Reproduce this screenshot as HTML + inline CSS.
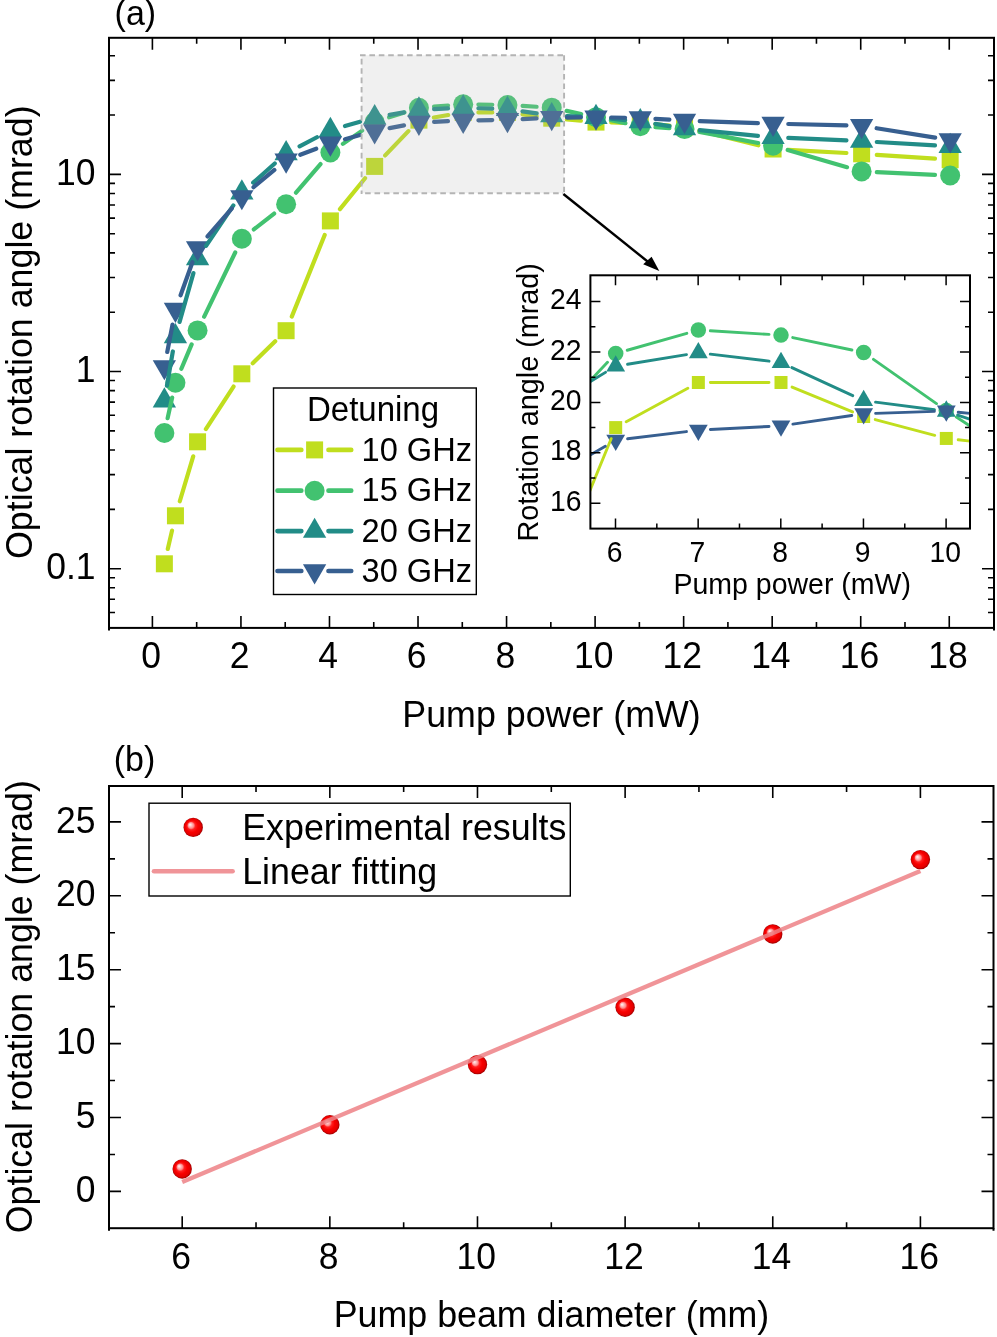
<!DOCTYPE html>
<html><head><meta charset="utf-8"><title>Optical rotation angle</title>
<style>html,body{margin:0;padding:0;background:#fff;width:997px;height:1337px;overflow:hidden}</style>
</head><body>
<svg width="997" height="1337" viewBox="0 0 997 1337" style="display:block">
<rect width="997" height="1337" fill="#fff"/>
<text transform="translate(114.6 24.5) scale(1 1.04)" font-size="34" font-family="'Liberation Sans', Arial, sans-serif">(a)</text>
<rect x="155.87" y="555.3" width="17" height="17" fill="#c0de1e"/>
<rect x="166.94" y="507.3" width="17" height="17" fill="#c0de1e"/>
<rect x="189.07" y="433.3" width="17" height="17" fill="#c0de1e"/>
<rect x="233.34" y="365.3" width="17" height="17" fill="#c0de1e"/>
<rect x="277.61" y="322.2" width="17" height="17" fill="#c0de1e"/>
<rect x="321.88" y="212.4" width="17" height="17" fill="#c0de1e"/>
<rect x="366.15" y="157.9" width="17" height="17" fill="#c0de1e"/>
<rect x="410.42" y="111.64" width="17" height="17" fill="#c0de1e"/>
<rect x="454.69" y="103.93" width="17" height="17" fill="#c0de1e"/>
<rect x="498.96" y="103.93" width="17" height="17" fill="#c0de1e"/>
<rect x="543.23" y="109.68" width="17" height="17" fill="#c0de1e"/>
<rect x="587.5" y="113.6" width="17" height="17" fill="#c0de1e"/>
<rect x="631.77" y="114.63" width="17" height="17" fill="#c0de1e"/>
<rect x="676.04" y="118.48" width="17" height="17" fill="#c0de1e"/>
<rect x="764.58" y="140.5" width="17" height="17" fill="#c0de1e"/>
<rect x="853.12" y="145.3" width="17" height="17" fill="#c0de1e"/>
<rect x="941.66" y="151.2" width="17" height="17" fill="#c0de1e"/>
<circle cx="164.37" cy="433" r="10" fill="#42c270"/>
<circle cx="175.44" cy="382.7" r="10" fill="#42c270"/>
<circle cx="197.57" cy="330.4" r="10" fill="#42c270"/>
<circle cx="241.84" cy="238.8" r="10" fill="#42c270"/>
<circle cx="286.11" cy="204.2" r="10" fill="#42c270"/>
<circle cx="330.38" cy="152.5" r="10" fill="#42c270"/>
<circle cx="374.65" cy="122" r="10" fill="#42c270"/>
<circle cx="418.92" cy="107.83" r="10" fill="#42c270"/>
<circle cx="463.19" cy="104.27" r="10" fill="#42c270"/>
<circle cx="507.46" cy="105.02" r="10" fill="#42c270"/>
<circle cx="551.73" cy="107.67" r="10" fill="#42c270"/>
<circle cx="596" cy="117.13" r="10" fill="#42c270"/>
<circle cx="640.27" cy="126.3" r="10" fill="#42c270"/>
<circle cx="684.54" cy="129.1" r="10" fill="#42c270"/>
<circle cx="773.08" cy="145.8" r="10" fill="#42c270"/>
<circle cx="861.62" cy="171.4" r="10" fill="#42c270"/>
<circle cx="950.16" cy="175.5" r="10" fill="#42c270"/>
<polygon points="164.37,387.25 176.02,407.43 152.72,407.43" fill="#228c87"/>
<polygon points="175.44,323.05 187.09,343.23 163.78,343.23" fill="#228c87"/>
<polygon points="197.57,245.05 209.22,265.23 185.92,265.23" fill="#228c87"/>
<polygon points="241.84,179.35 253.49,199.53 230.19,199.53" fill="#228c87"/>
<polygon points="286.11,139.95 297.76,160.13 274.46,160.13" fill="#228c87"/>
<polygon points="330.38,116.75 342.03,136.93 318.73,136.93" fill="#228c87"/>
<polygon points="374.65,104.05 386.3,124.23 363,124.23" fill="#228c87"/>
<polygon points="418.92,96.35 430.57,116.53 407.27,116.53" fill="#228c87"/>
<polygon points="463.19,94.26 474.84,114.43 451.54,114.43" fill="#228c87"/>
<polygon points="507.46,95.79 519.11,115.97 495.81,115.97" fill="#228c87"/>
<polygon points="551.73,102 563.38,122.18 540.08,122.18" fill="#228c87"/>
<polygon points="596,103.81 607.65,123.99 584.35,123.99" fill="#228c87"/>
<polygon points="640.27,108.05 651.92,128.23 628.62,128.23" fill="#228c87"/>
<polygon points="684.54,115.15 696.19,135.33 672.89,135.33" fill="#228c87"/>
<polygon points="773.08,123.85 784.73,144.03 761.43,144.03" fill="#228c87"/>
<polygon points="861.62,127.65 873.27,147.83 849.97,147.83" fill="#228c87"/>
<polygon points="950.16,132.85 961.81,153.03 938.51,153.03" fill="#228c87"/>
<polygon points="164.37,380.35 176.02,360.17 152.72,360.17" fill="#375f90"/>
<polygon points="175.44,323.05 187.09,302.87 163.78,302.87" fill="#375f90"/>
<polygon points="197.57,261.35 209.22,241.17 185.92,241.17" fill="#375f90"/>
<polygon points="241.84,210.35 253.49,190.17 230.19,190.17" fill="#375f90"/>
<polygon points="286.11,173.75 297.76,153.57 274.46,153.57" fill="#375f90"/>
<polygon points="330.38,156.65 342.03,136.47 318.73,136.47" fill="#375f90"/>
<polygon points="374.65,144.45 386.3,124.27 363,124.27" fill="#375f90"/>
<polygon points="418.92,135.88 430.57,115.7 407.27,115.7" fill="#375f90"/>
<polygon points="463.19,134.05 474.84,113.87 451.54,113.87" fill="#375f90"/>
<polygon points="507.46,133.28 519.11,113.1 495.81,113.1" fill="#375f90"/>
<polygon points="551.73,131.15 563.38,110.97 540.08,110.97" fill="#375f90"/>
<polygon points="596,130.67 607.65,110.49 584.35,110.49" fill="#375f90"/>
<polygon points="640.27,131.45 651.92,111.27 628.62,111.27" fill="#375f90"/>
<polygon points="684.54,134.05 696.19,113.87 672.89,113.87" fill="#375f90"/>
<polygon points="773.08,137.05 784.73,116.87 761.43,116.87" fill="#375f90"/>
<polygon points="861.62,139.25 873.27,119.07 849.97,119.07" fill="#375f90"/>
<polygon points="950.16,153.45 961.81,133.27 938.51,133.27" fill="#375f90"/>
<path d="M167.78 548.99L172.02 530.61M179.79 501.24L193.21 456.36M205.86 429.06L233.55 386.54M252.73 363.2L275.22 341.3M291.79 316.6L324.7 235M339.96 209.1L365.07 178.2M385.16 155.42L408.41 131.12M433.89 117.54L448.22 115.04M478.39 112.43L492.26 112.43M522.53 114.39L536.66 116.23M566.87 119.52L580.86 120.76M611.2 122.45L625.07 122.78M655.41 124.44L669.4 125.66M699.29 130.64L758.33 145.33M788.26 149.82L846.44 152.98M876.79 154.81L934.99 158.69" stroke="#c0de1e" stroke-width="4.2" stroke-linecap="round" fill="none"/>
<path d="M167.63 418.16L172.17 397.54M181.36 368.7L191.65 344.4M204.18 316.71L235.23 252.49M253.82 229.44L274.13 213.56M296 192.65L320.49 164.05M342.9 143.88L362.13 130.62M389.13 117.36L404.44 112.46M434.07 106.61L448.04 105.49M478.39 104.53L492.26 104.76M522.63 105.93L536.56 106.76M566.59 110.85L581.14 113.96M610.88 120.22L625.39 123.22M655.44 127.26L669.37 128.14M699.48 131.92L758.14 142.98M787.68 150.02L847.02 167.18M876.8 172.1L934.98 174.8" stroke="#42c270" stroke-width="4.2" stroke-linecap="round" fill="none"/>
<path d="M166.95 385.72L172.85 351.48M179.58 321.88L193.42 273.12M206.06 245.89L233.35 205.41M253.19 182.69L274.76 163.51M299.57 146.34L316.92 137.26M344.99 126.01L360.04 121.69M389.63 114.9L403.94 112.4M434.1 109.08L448.01 108.43M478.38 108.23L492.27 108.72M522.51 111.35L536.68 113.34M566.92 116.07L580.81 116.64M611.13 118.71L625.14 120.05M655.28 123.91L669.53 126.19M699.67 130.09L757.95 135.81M788.27 137.95L846.43 140.45M876.79 141.99L934.99 145.41" stroke="#228c87" stroke-width="4.2" stroke-linecap="round" fill="none"/>
<path d="M167.25 351.98L172.55 324.52M180.57 295.29L192.44 262.21M207.53 236.42L231.88 208.38M253.55 187.21L274.4 169.99M300.29 154.82L316.2 148.68M345.03 139.16L360 135.04M389.57 128.11L404 125.32M434.11 121.8L448 121.22M478.39 120.33L492.26 120.09M522.64 119.1L536.55 118.43M566.93 117.54L580.8 117.38M611.2 117.49L625.07 117.73M655.44 118.89L669.37 119.71M699.73 121.11L757.89 123.09M788.28 123.98L846.42 125.42M876.63 128.21L935.15 137.59" stroke="#375f90" stroke-width="4.2" stroke-linecap="round" fill="none"/>
<rect x="361.6" y="55.2" width="202.5" height="138" fill="#b2b2b2" fill-opacity="0.195"/>
<g stroke="#b4b4b4" stroke-width="1.9" stroke-dasharray="5.6 3.8" fill="none"><path d="M360 55.2H565"/><path d="M361.6 58.8V194"/><path d="M361.6 193.2H563" stroke-dashoffset="5.9"/><path d="M564.1 55.2V192"/></g>
<line x1="563.4" y1="194" x2="651" y2="264.2" stroke="#000" stroke-width="2.4"/>
<polygon points="659.3,270.9 643.2,264.3 651.6,256.7" fill="#000"/>
<path d="M152.4 627.9v-12M152.4 37.8v12M196.67 627.9v-6M196.67 37.8v6M240.94 627.9v-12M240.94 37.8v12M285.21 627.9v-6M285.21 37.8v6M329.48 627.9v-12M329.48 37.8v12M373.75 627.9v-6M373.75 37.8v6M418.02 627.9v-12M418.02 37.8v12M462.29 627.9v-6M462.29 37.8v6M506.56 627.9v-12M506.56 37.8v12M550.83 627.9v-6M550.83 37.8v6M595.1 627.9v-12M595.1 37.8v12M639.37 627.9v-6M639.37 37.8v6M683.64 627.9v-12M683.64 37.8v12M727.91 627.9v-6M727.91 37.8v6M772.18 627.9v-12M772.18 37.8v12M816.45 627.9v-6M816.45 37.8v6M860.72 627.9v-12M860.72 37.8v12M904.99 627.9v-6M904.99 37.8v6M949.26 627.9v-12M949.26 37.8v12M109 612.44h6M994 612.44h-6M109 599.24h6M994 599.24h-6M109 587.81h6M994 587.81h-6M109 577.72h6M994 577.72h-6M109 568.7h12M994 568.7h-12M109 509.35h6M994 509.35h-6M109 474.64h6M994 474.64h-6M109 450h6M994 450h-6M109 430.9h6M994 430.9h-6M109 415.29h6M994 415.29h-6M109 402.09h6M994 402.09h-6M109 390.66h6M994 390.66h-6M109 380.57h6M994 380.57h-6M109 371.55h12M994 371.55h-12M109 312.2h6M994 312.2h-6M109 277.49h6M994 277.49h-6M109 252.85h6M994 252.85h-6M109 233.75h6M994 233.75h-6M109 218.14h6M994 218.14h-6M109 204.94h6M994 204.94h-6M109 193.51h6M994 193.51h-6M109 183.42h6M994 183.42h-6M109 174.4h12M994 174.4h-12M109 115.05h6M994 115.05h-6M109 80.34h6M994 80.34h-6M109 55.7h6M994 55.7h-6" stroke="#000" stroke-width="1.6" fill="none"/>
<rect x="109.0" y="37.8" width="885" height="590.1" fill="none" stroke="#000" stroke-width="2"/>
<path d="M109.0 627.9v2.6M994.0 627.9v2.6" stroke="#000" stroke-width="2"/>
<text transform="translate(151.1 668) scale(1 1.04)" font-size="35.5" font-family="'Liberation Sans', Arial, sans-serif" text-anchor="middle">0</text>
<text transform="translate(239.64 668) scale(1 1.04)" font-size="35.5" font-family="'Liberation Sans', Arial, sans-serif" text-anchor="middle">2</text>
<text transform="translate(328.18 668) scale(1 1.04)" font-size="35.5" font-family="'Liberation Sans', Arial, sans-serif" text-anchor="middle">4</text>
<text transform="translate(416.72 668) scale(1 1.04)" font-size="35.5" font-family="'Liberation Sans', Arial, sans-serif" text-anchor="middle">6</text>
<text transform="translate(505.26 668) scale(1 1.04)" font-size="35.5" font-family="'Liberation Sans', Arial, sans-serif" text-anchor="middle">8</text>
<text transform="translate(593.8 668) scale(1 1.04)" font-size="35.5" font-family="'Liberation Sans', Arial, sans-serif" text-anchor="middle">10</text>
<text transform="translate(682.34 668) scale(1 1.04)" font-size="35.5" font-family="'Liberation Sans', Arial, sans-serif" text-anchor="middle">12</text>
<text transform="translate(770.88 668) scale(1 1.04)" font-size="35.5" font-family="'Liberation Sans', Arial, sans-serif" text-anchor="middle">14</text>
<text transform="translate(859.42 668) scale(1 1.04)" font-size="35.5" font-family="'Liberation Sans', Arial, sans-serif" text-anchor="middle">16</text>
<text transform="translate(947.96 668) scale(1 1.04)" font-size="35.5" font-family="'Liberation Sans', Arial, sans-serif" text-anchor="middle">18</text>
<text transform="translate(95.5 579) scale(1 1.04)" font-size="35.5" font-family="'Liberation Sans', Arial, sans-serif" text-anchor="end">0.1</text>
<text transform="translate(95.5 381.85) scale(1 1.04)" font-size="35.5" font-family="'Liberation Sans', Arial, sans-serif" text-anchor="end">1</text>
<text transform="translate(95.5 184.7) scale(1 1.04)" font-size="35.5" font-family="'Liberation Sans', Arial, sans-serif" text-anchor="end">10</text>
<text transform="translate(551.5 726.7) scale(1 1.04)" font-size="35.8" font-family="'Liberation Sans', Arial, sans-serif" text-anchor="middle">Pump power (mW)</text>
<text transform="translate(31.5 332.2) rotate(-90) scale(1 1.04)" font-size="35.8" font-family="'Liberation Sans', Arial, sans-serif" text-anchor="middle">Optical rotation angle (mrad)</text>
<rect x="273.5" y="388" width="202.8" height="206.5" fill="#fff" stroke="#000" stroke-width="1.4"/>
<text transform="translate(307 420.6) scale(1 1.04)" font-size="33" font-family="'Liberation Sans', Arial, sans-serif">Detuning</text>
<path d="M277.5 449.9H301.3M328.5 449.9H351.2" stroke="#c0de1e" stroke-width="4.7" stroke-linecap="round"/>
<rect x="306.1" y="441.4" width="17" height="17" fill="#c0de1e"/>
<text transform="translate(361.5 460.6) scale(1 1.04)" font-size="32.6" font-family="'Liberation Sans', Arial, sans-serif">10 GHz</text>
<path d="M277.5 490.7H301.3M328.5 490.7H351.2" stroke="#42c270" stroke-width="4.7" stroke-linecap="round"/>
<circle cx="314.6" cy="490.7" r="10" fill="#42c270"/>
<text transform="translate(361.5 501.4) scale(1 1.04)" font-size="32.6" font-family="'Liberation Sans', Arial, sans-serif">15 GHz</text>
<path d="M277.5 531.1H301.3M328.5 531.1H351.2" stroke="#228c87" stroke-width="4.7" stroke-linecap="round"/>
<polygon points="314.6,517.65 326.25,537.83 302.95,537.83" fill="#228c87"/>
<text transform="translate(361.5 541.8) scale(1 1.04)" font-size="32.6" font-family="'Liberation Sans', Arial, sans-serif">20 GHz</text>
<path d="M277.5 571H301.3M328.5 571H351.2" stroke="#375f90" stroke-width="4.7" stroke-linecap="round"/>
<polygon points="314.6,584.45 326.25,564.27 302.95,564.27" fill="#375f90"/>
<text transform="translate(361.5 581.7) scale(1 1.04)" font-size="32.6" font-family="'Liberation Sans', Arial, sans-serif">30 GHz</text>
<rect x="590.4" y="275.3" width="379.6" height="253.3" fill="#fff"/>
<svg x="590.4" y="275.3" width="379.6" height="253.3" viewBox="590.4 275.3 379.6 253.3" overflow="hidden">
<rect x="609.2" y="421.1" width="13" height="13" fill="#c0de1e"/>
<rect x="691.85" y="375.99" width="13" height="13" fill="#c0de1e"/>
<rect x="774.5" y="375.99" width="13" height="13" fill="#c0de1e"/>
<rect x="857.15" y="410.01" width="13" height="13" fill="#c0de1e"/>
<rect x="939.8" y="431.94" width="13" height="13" fill="#c0de1e"/>
<circle cx="615.7" cy="353.51" r="7.75" fill="#42c270"/>
<circle cx="698.35" cy="330.08" r="7.75" fill="#42c270"/>
<circle cx="781" cy="335.12" r="7.75" fill="#42c270"/>
<circle cx="863.65" cy="352.5" r="7.75" fill="#42c270"/>
<circle cx="946.3" cy="410.46" r="7.75" fill="#42c270"/>
<polygon points="615.7,355.26 625.1,371.54 606.3,371.54" fill="#228c87"/>
<polygon points="698.35,341.9 707.75,358.18 688.95,358.18" fill="#228c87"/>
<polygon points="781,351.73 790.4,368.01 771.6,368.01" fill="#228c87"/>
<polygon points="863.65,389.78 873.05,406.06 854.25,406.06" fill="#228c87"/>
<polygon points="946.3,400.37 955.7,416.65 936.9,416.65" fill="#228c87"/>
<polygon points="615.7,451.05 625.1,434.77 606.3,434.77" fill="#375f90"/>
<polygon points="698.35,440.97 707.75,424.69 688.95,424.69" fill="#375f90"/>
<polygon points="781,436.69 790.4,420.41 771.6,420.41" fill="#375f90"/>
<polygon points="863.65,424.59 873.05,408.31 854.25,408.31" fill="#375f90"/>
<polygon points="946.3,421.82 955.7,405.54 936.9,405.54" fill="#375f90"/>
<path d="M456.83 749.87L526.62 639.85M537.59 618.61L611.16 438.71M626.23 421.85L687.82 388.24M710.35 382.49L769 382.49M792.1 387.06L852.55 411.94M875.25 419.59L934.7 435.36M958.22 439.78L1017.03 446.41M1040.61 450.6L1099.94 465.08" stroke="#c0de1e" stroke-width="2.9" stroke-linecap="round" fill="none"/>
<path d="M456.52 570.63L526.93 452M541.26 432.93L607.49 362.27M627.24 350.24L686.81 333.35M710.33 330.81L769.02 334.39M792.74 337.59L851.91 350.03M873.47 359.39L936.48 403.57M956.35 417.03L1018.9 457.88M1040.78 466.48L1099.77 476.63" stroke="#42c270" stroke-width="2.9" stroke-linecap="round" fill="none"/>
<path d="M459.69 476.53L523.76 424.2M543.29 410.35L605.46 372.37M627.55 364.2L686.5 354.67M710.27 354.17L769.08 361.17M791.9 367.6L852.75 395.62M875.55 402.16L934.4 409.7M957.68 415.04L1017.57 435.14M1039.89 443.89L1100.66 471.23" stroke="#228c87" stroke-width="2.9" stroke-linecap="round" fill="none"/>
<path d="M460.36 536.92L523.09 494.75M543.43 482.04L605.32 446.21M627.61 438.75L686.44 431.57M710.33 429.5L769.02 426.46M792.87 424.1L851.78 415.48M875.64 413.34L934.31 411.37M958.24 412.19L1017.01 418.23M1040.77 421.54L1099.78 431.94" stroke="#375f90" stroke-width="2.9" stroke-linecap="round" fill="none"/>
</svg>
<path d="M615.5 528.6v-10M615.5 275.3v10M656.83 528.6v-5M656.83 275.3v5M698.15 528.6v-10M698.15 275.3v10M739.48 528.6v-5M739.48 275.3v5M780.8 528.6v-10M780.8 275.3v10M822.12 528.6v-5M822.12 275.3v5M863.45 528.6v-10M863.45 275.3v10M904.78 528.6v-5M904.78 275.3v5M946.1 528.6v-10M946.1 275.3v10M590.4 503.2h10M970 503.2h-10M590.4 478h5M970 478h-5M590.4 452.8h10M970 452.8h-10M590.4 427.6h5M970 427.6h-5M590.4 402.4h10M970 402.4h-10M590.4 377.2h5M970 377.2h-5M590.4 352h10M970 352h-10M590.4 326.8h5M970 326.8h-5M590.4 301.6h10M970 301.6h-10" stroke="#000" stroke-width="1.5" fill="none"/>
<rect x="590.4" y="275.3" width="379.6" height="253.3" fill="none" stroke="#000" stroke-width="2"/>
<text transform="translate(614.7 561.5) scale(1 1.04)" font-size="28.3" font-family="'Liberation Sans', Arial, sans-serif" text-anchor="middle">6</text>
<text transform="translate(697.35 561.5) scale(1 1.04)" font-size="28.3" font-family="'Liberation Sans', Arial, sans-serif" text-anchor="middle">7</text>
<text transform="translate(780 561.5) scale(1 1.04)" font-size="28.3" font-family="'Liberation Sans', Arial, sans-serif" text-anchor="middle">8</text>
<text transform="translate(862.65 561.5) scale(1 1.04)" font-size="28.3" font-family="'Liberation Sans', Arial, sans-serif" text-anchor="middle">9</text>
<text transform="translate(945.3 561.5) scale(1 1.04)" font-size="28.3" font-family="'Liberation Sans', Arial, sans-serif" text-anchor="middle">10</text>
<text transform="translate(581.5 510.7) scale(1 1.04)" font-size="28.3" font-family="'Liberation Sans', Arial, sans-serif" text-anchor="end">16</text>
<text transform="translate(581.5 460.3) scale(1 1.04)" font-size="28.3" font-family="'Liberation Sans', Arial, sans-serif" text-anchor="end">18</text>
<text transform="translate(581.5 409.9) scale(1 1.04)" font-size="28.3" font-family="'Liberation Sans', Arial, sans-serif" text-anchor="end">20</text>
<text transform="translate(581.5 359.5) scale(1 1.04)" font-size="28.3" font-family="'Liberation Sans', Arial, sans-serif" text-anchor="end">22</text>
<text transform="translate(581.5 309.1) scale(1 1.04)" font-size="28.3" font-family="'Liberation Sans', Arial, sans-serif" text-anchor="end">24</text>
<text transform="translate(792.2 593.8) scale(1 1.05)" font-size="28.5" font-family="'Liberation Sans', Arial, sans-serif" text-anchor="middle">Pump power (mW)</text>
<text transform="translate(537.5 402.3) rotate(-90) scale(1 1.04)" font-size="28.8" font-family="'Liberation Sans', Arial, sans-serif" text-anchor="middle">Rotation angle (mrad)</text>
<text transform="translate(113.8 770.8) scale(1 1.04)" font-size="34" font-family="'Liberation Sans', Arial, sans-serif">(b)</text>
<defs><radialGradient id="sph" cx="0.5" cy="0.5" r="0.5" fx="0.33" fy="0.35"><stop offset="0" stop-color="#fffaf2"/><stop offset="0.1" stop-color="#ffd6d6"/><stop offset="0.3" stop-color="#ff8a8a"/><stop offset="0.42" stop-color="#ff2020"/><stop offset="0.62" stop-color="#f80000"/><stop offset="0.86" stop-color="#e40000"/><stop offset="1" stop-color="#9a0000"/></radialGradient></defs>
<circle cx="182.2" cy="1168.93" r="9.7" fill="url(#sph)"/>
<circle cx="329.84" cy="1124.74" r="9.7" fill="url(#sph)"/>
<circle cx="477.48" cy="1064.59" r="9.7" fill="url(#sph)"/>
<circle cx="625.12" cy="1007.24" r="9.7" fill="url(#sph)"/>
<circle cx="772.76" cy="933.93" r="9.7" fill="url(#sph)"/>
<circle cx="920.4" cy="859.59" r="9.7" fill="url(#sph)"/>
<line x1="182.2" y1="1181.97" x2="920.4" y2="871.04" stroke="#ed8186" stroke-opacity="0.85" stroke-width="4.3"/>
<path d="M182.2 1228.2v-12M182.2 786v12M256.02 1228.2v-6M256.02 786v6M329.84 1228.2v-12M329.84 786v12M403.66 1228.2v-6M403.66 786v6M477.48 1228.2v-12M477.48 786v12M551.3 1228.2v-6M551.3 786v6M625.12 1228.2v-12M625.12 786v12M698.94 1228.2v-6M698.94 786v6M772.76 1228.2v-12M772.76 786v12M846.58 1228.2v-6M846.58 786v6M920.4 1228.2v-12M920.4 786v12M109 1191.4h12M993.5 1191.4h-12M109 1154.45h6M993.5 1154.45h-6M109 1117.5h12M993.5 1117.5h-12M109 1080.55h6M993.5 1080.55h-6M109 1043.6h12M993.5 1043.6h-12M109 1006.65h6M993.5 1006.65h-6M109 969.7h12M993.5 969.7h-12M109 932.75h6M993.5 932.75h-6M109 895.8h12M993.5 895.8h-12M109 858.85h6M993.5 858.85h-6M109 821.9h12M993.5 821.9h-12" stroke="#000" stroke-width="1.6" fill="none"/>
<rect x="109.0" y="786.0" width="884.5" height="442.2" fill="none" stroke="#000" stroke-width="2"/>
<path d="M109.0 1228.2v2.6M993.5 1228.2v2.6" stroke="#000" stroke-width="2"/>
<text transform="translate(181 1268.8) scale(1 1.04)" font-size="35.5" font-family="'Liberation Sans', Arial, sans-serif" text-anchor="middle">6</text>
<text transform="translate(328.64 1268.8) scale(1 1.04)" font-size="35.5" font-family="'Liberation Sans', Arial, sans-serif" text-anchor="middle">8</text>
<text transform="translate(476.28 1268.8) scale(1 1.04)" font-size="35.5" font-family="'Liberation Sans', Arial, sans-serif" text-anchor="middle">10</text>
<text transform="translate(623.92 1268.8) scale(1 1.04)" font-size="35.5" font-family="'Liberation Sans', Arial, sans-serif" text-anchor="middle">12</text>
<text transform="translate(771.56 1268.8) scale(1 1.04)" font-size="35.5" font-family="'Liberation Sans', Arial, sans-serif" text-anchor="middle">14</text>
<text transform="translate(919.2 1268.8) scale(1 1.04)" font-size="35.5" font-family="'Liberation Sans', Arial, sans-serif" text-anchor="middle">16</text>
<text transform="translate(95.5 1202) scale(1 1.04)" font-size="35.5" font-family="'Liberation Sans', Arial, sans-serif" text-anchor="end">0</text>
<text transform="translate(95.5 1128.1) scale(1 1.04)" font-size="35.5" font-family="'Liberation Sans', Arial, sans-serif" text-anchor="end">5</text>
<text transform="translate(95.5 1054.2) scale(1 1.04)" font-size="35.5" font-family="'Liberation Sans', Arial, sans-serif" text-anchor="end">10</text>
<text transform="translate(95.5 980.3) scale(1 1.04)" font-size="35.5" font-family="'Liberation Sans', Arial, sans-serif" text-anchor="end">15</text>
<text transform="translate(95.5 906.4) scale(1 1.04)" font-size="35.5" font-family="'Liberation Sans', Arial, sans-serif" text-anchor="end">20</text>
<text transform="translate(95.5 832.5) scale(1 1.04)" font-size="35.5" font-family="'Liberation Sans', Arial, sans-serif" text-anchor="end">25</text>
<text transform="translate(551.5 1326.7) scale(1 1.04)" font-size="35.8" font-family="'Liberation Sans', Arial, sans-serif" text-anchor="middle">Pump beam diameter (mm)</text>
<text transform="translate(31.5 1006.7) rotate(-90) scale(1 1.04)" font-size="35.75" font-family="'Liberation Sans', Arial, sans-serif" text-anchor="middle">Optical rotation angle (mrad)</text>
<rect x="149" y="803.2" width="421.3" height="92.8" fill="#fff" stroke="#000" stroke-width="1.4"/>
<circle cx="193.2" cy="827.4" r="9.7" fill="url(#sph)"/>
<text transform="translate(242.2 839.8) scale(1 1.04)" font-size="35.8" font-family="'Liberation Sans', Arial, sans-serif">Experimental results</text>
<line x1="154" y1="871.2" x2="232.6" y2="871.2" stroke="#ed8186" stroke-opacity="0.85" stroke-width="4.6" stroke-linecap="round"/>
<text transform="translate(242.2 883.6) scale(1 1.04)" font-size="35.8" font-family="'Liberation Sans', Arial, sans-serif">Linear fitting</text>
</svg>
</body></html>
